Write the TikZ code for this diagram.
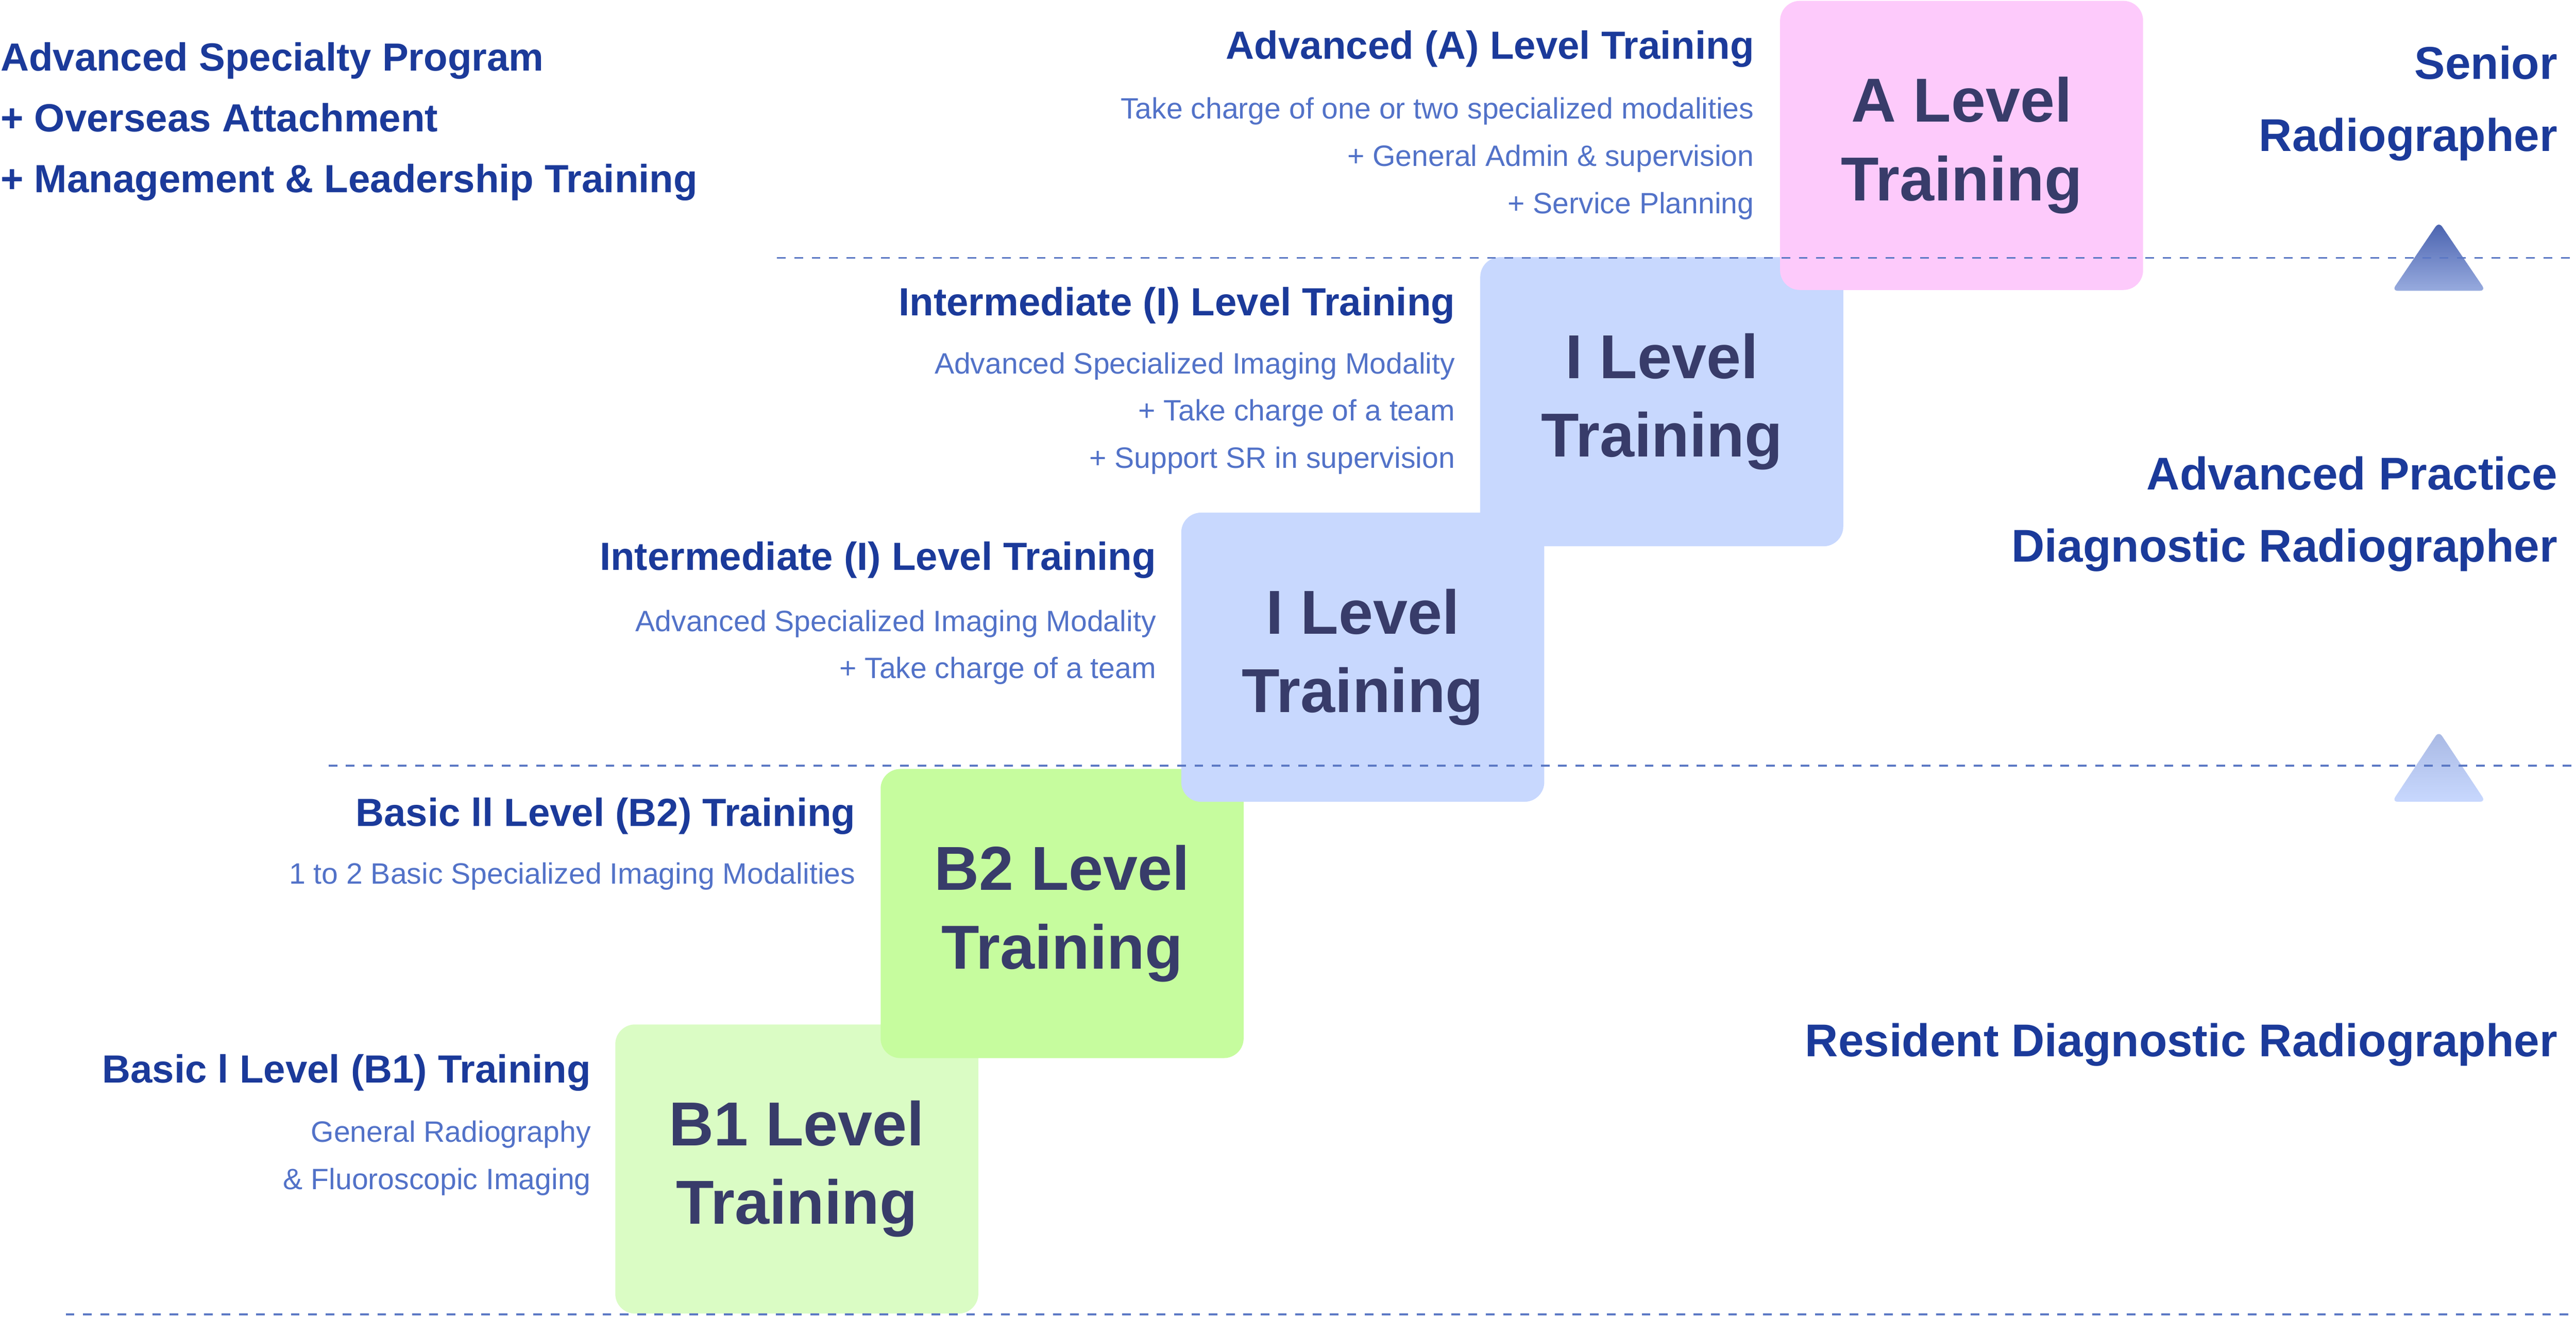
\documentclass[tikz,border=0pt]{standalone}
\usepackage{fontspec}
\setmainfont{Liberation Sans}
\definecolor{headblue}{HTML}{1B3A9A}
\definecolor{subblue}{HTML}{5272C8}
\definecolor{boxtext}{HTML}{383C6A}
\definecolor{pinkbox}{HTML}{FDCAFB}
\definecolor{bluebox}{HTML}{C8D8FE}
\definecolor{greenbox}{HTML}{C6FC9E}
\definecolor{lightgreen}{HTML}{DAFCC4}
\definecolor{dashblue}{HTML}{5B78C4}
\begin{document}
\begin{tikzpicture}[x=0.02cm,y=-0.02cm,
  level/.style={rectangle,rounded corners=0.24cm,minimum width=4.42cm,minimum height=3.52cm,
    inner sep=0pt,align=center,text=boxtext,font=\fontsize{21.5}{27.2}\selectfont\bfseries},
  head/.style={anchor=base east,inner sep=0pt,text=headblue,font=\fontsize{13.6}{16}\selectfont\bfseries},
  sub/.style={anchor=base east,inner sep=0pt,align=right,text=subblue,font=\fontsize{10.2}{16.4}\selectfont},
  rank/.style={anchor=base east,inner sep=0pt,align=right,text=headblue,font=\fontsize{15.9}{25}\selectfont\bfseries},
  levelline/.style={dashed,dashblue,semithick}]
\useasboundingbox (0,0) rectangle (1568,802);
% boxes, bottom to top
\node(B1) [level,fill=lightgreen] at (485,711.5) {B1 Level\\Training};
\node(B2) [level,fill=greenbox] at (646.5,556) {B2 Level\\Training};
\node(IL) [level,fill=bluebox] at (829.5,400) {I Level\\Training};
\node(IU) [level,fill=bluebox] at (1011.5,244.5) {I Level\\Training};
\node(AL) [level,fill=pinkbox] at (1194,88.5) {A Level\\Training};
% descriptions (multi-line nodes sit on their last baseline)
\node(hB1) [head] at (360,659) {Basic l Level (B1) Training};
\node(sB1) [sub] at (360,724) {General Radiography\\\& Fluoroscopic Imaging};
\node(hB2) [head] at (521,503) {Basic ll Level (B2) Training};
\node(sB2) [sub] at (521,538) {1 to 2 Basic Specialized Imaging Modalities};
\node(hIL) [head] at (704,347) {Intermediate (I) Level Training};
\node(sIL) [sub] at (704,413) {Advanced Specialized Imaging Modality\\+ Take charge of a team};
\node(hIU) [head] at (886,192) {Intermediate (I) Level Training};
\node(sIU) [sub] at (886,285) {Advanced Specialized Imaging Modality\\+ Take charge of a team\\+ Support SR in supervision};
\node(hAL) [head] at (1068,36) {Advanced (A) Level Training};
\node(sAL) [sub] at (1068,130) {Take charge of one or two specialized modalities\\+ General Admin \& supervision\\+ Service Planning};
\node(prog) [anchor=base west,inner sep=0pt,align=left,text=headblue,
  font=\fontsize{13.6}{21}\selectfont\bfseries] at (0,117)
  {Advanced Specialty Program\\+ Overseas Attachment\\+ Management \& Leadership Training};
% ranks
\node(sr) [rank] at (1557,92) {Senior\\Radiographer};
\node(apr) [rank] at (1557,342) {Advanced Practice\\Diagnostic Radiographer};
\node(rdr) [rank] at (1557,643) {Resident Diagnostic Radiographer};
% arrows up
\shade[top color=headblue!80,bottom color=subblue!60,rounded corners=2pt]
  (1456,177) -- (1484.5,135) -- (1513,177) -- cycle;
\shade[top color=subblue!50,bottom color=bluebox,rounded corners=2pt]
  (1456,488) -- (1484.5,445) -- (1513,488) -- cycle;
% level lines
\coordinate(l1a) at (473,157); \coordinate(l1b) at (1568,157);
\coordinate(l2a) at (200,466); \coordinate(l2b) at (1568,466);
\coordinate(l3a) at (40,800); \coordinate(l3b) at (1568,800);
\draw[levelline] (l1a) -- (l1b);
\draw[levelline] (l2a) -- (l2b);
\draw[levelline] (l3a) -- (l3b);
\end{tikzpicture}
\end{document}
